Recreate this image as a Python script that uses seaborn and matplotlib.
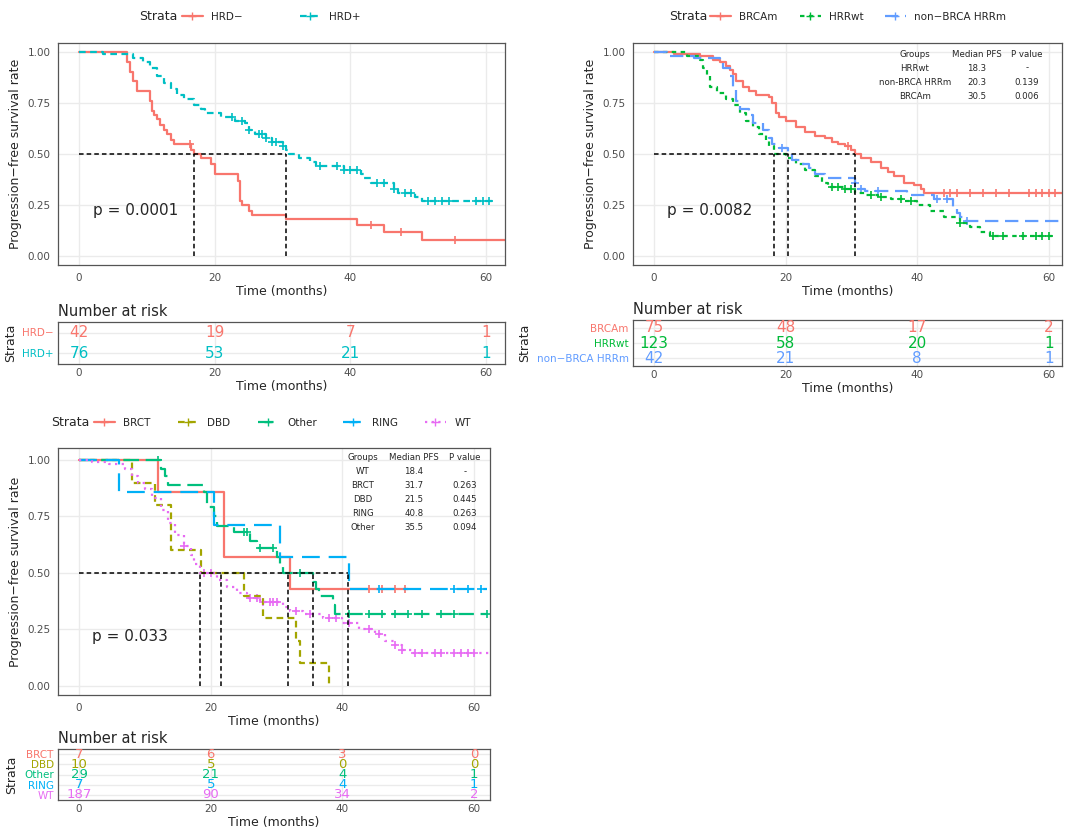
import matplotlib
matplotlib.use("Agg")
import matplotlib.pyplot as plt
import seaborn as sns
from matplotlib.lines import Line2D

# ---------------- data ----------------
risk_times = [0, 20, 40, 60]

# Panel A: HRD
hrdneg_t = [0, 7, 7.5, 8, 8.5, 9, 10.5, 10.8, 11, 11.5, 12, 12.5, 13, 13.5, 14, 16.5, 17, 18, 19.5, 20, 23.5, 23.7, 24, 25, 25.5, 30.5, 41, 45, 50.5, 63]
hrdneg_s = [1.0, 0.95, 0.90, 0.86, 0.81, 0.81, 0.76, 0.71, 0.69, 0.67, 0.64, 0.62, 0.60, 0.57, 0.55, 0.52, 0.50, 0.48, 0.45, 0.40, 0.37, 0.27, 0.25, 0.22, 0.20, 0.18, 0.15, 0.12, 0.08, 0.08]
hrdneg_cens = [16.3, 43, 47.5, 55.5]
hrdpos_t = [0, 3.5, 8, 9.5, 10.5, 11.5, 12.5, 13.5, 14.5, 15.5, 17, 18, 18.5, 21, 23, 24.5, 25, 26, 27.5, 28.5, 30, 30.5, 31, 32.5, 34, 35, 39, 41.5, 42, 43, 46.5, 47, 49.5, 50.5, 61]
hrdpos_s = [1.0, 0.99, 0.97, 0.95, 0.92, 0.88, 0.85, 0.82, 0.79, 0.77, 0.74, 0.72, 0.70, 0.68, 0.66, 0.65, 0.62, 0.60, 0.58, 0.56, 0.54, 0.52, 0.50, 0.48, 0.46, 0.44, 0.42, 0.40, 0.38, 0.36, 0.33, 0.31, 0.29, 0.27, 0.27]
hrdpos_cens = [22.5, 24, 25, 26.5, 27, 27.5, 28.5, 29, 30, 35.5, 38, 39, 40, 41, 44, 45, 46.5, 48, 49, 51.5, 52.5, 53.5, 54.5, 58.5, 59.5, 60.5]
hrd_groups = ["HRD\u2212", "HRD+"]
hrd_risk = [[42, 19, 7, 1], [76, 53, 21, 1]]
hrd_medians = [17.0, 30.5]
hrd_p = "p = 0.0001"

# Panel B: HRR
brcam_t = [0, 3, 7, 9, 10, 11, 11.5, 12, 12.5, 13.5, 14.5, 15.5, 17.5, 18, 18.5, 19, 20, 21.5, 23, 24.5, 26, 27, 28, 29, 30, 30.5, 31.5, 33, 34.5, 35.5, 36.5, 38, 39.5, 40.5, 41, 62]
brcam_s = [1.0, 0.99, 0.98, 0.96, 0.95, 0.93, 0.91, 0.89, 0.86, 0.83, 0.81, 0.79, 0.78, 0.75, 0.70, 0.68, 0.66, 0.63, 0.61, 0.59, 0.58, 0.56, 0.55, 0.54, 0.52, 0.50, 0.48, 0.46, 0.43, 0.41, 0.39, 0.36, 0.35, 0.33, 0.31, 0.31]
brcam_cens = [29.5, 44, 45, 46, 48, 50, 52, 54, 57, 58, 59, 60, 61]
hrrwt_t = [0, 5, 7, 7.5, 8, 8.5, 9.5, 11, 12, 13, 14, 15, 16, 17, 17.5, 18.3, 20, 21.5, 23, 24.5, 25.5, 26.5, 29, 30.5, 32, 34, 36, 38, 40, 42, 44, 46.5, 48, 49.5, 51, 61]
hrrwt_s = [1.0, 0.98, 0.96, 0.92, 0.88, 0.83, 0.80, 0.77, 0.74, 0.70, 0.66, 0.63, 0.60, 0.57, 0.54, 0.50, 0.48, 0.45, 0.42, 0.39, 0.36, 0.34, 0.33, 0.31, 0.30, 0.29, 0.28, 0.27, 0.25, 0.22, 0.19, 0.16, 0.14, 0.12, 0.10, 0.10]
hrrwt_cens = [27, 28, 29, 30, 33, 34.5, 37.5, 39, 46.5, 51.5, 53, 56, 58, 59, 60]
nonbrca_t = [0, 2, 6, 10, 10.5, 11.5, 12, 12.5, 13, 14.5, 15, 16.5, 17.5, 18, 19, 20.3, 21, 22.5, 23.5, 24.5, 26, 30.5, 31, 32, 38.5, 42.5, 45.5, 46, 46.5, 47, 63]
nonbrca_s = [1.0, 0.98, 0.97, 0.95, 0.92, 0.88, 0.83, 0.76, 0.72, 0.69, 0.65, 0.62, 0.58, 0.55, 0.53, 0.50, 0.47, 0.45, 0.43, 0.40, 0.38, 0.36, 0.33, 0.32, 0.30, 0.28, 0.24, 0.21, 0.19, 0.17, 0.17]
nonbrca_cens = [19.5, 30.5, 31.5, 34, 43, 44.5, 47.5]
hrr_groups = ["BRCAm", "HRRwt", "non\u2212BRCA HRRm"]
hrr_risk = [[75, 48, 17, 2], [123, 58, 20, 1], [42, 21, 8, 1]]
hrr_medians = [30.5, 18.3, 20.3]
hrr_p = "p = 0.0082"
hrr_table = [["Groups", "Median PFS", "P value"], ["HRRwt", "18.3", "-"],
             ["non-BRCA HRRm", "20.3", "0.139"], ["BRCAm", "30.5", "0.006"]]

# Panel C: domains
brct_t = [0, 12, 22, 32, 50]
brct_s = [1.0, 0.857, 0.571, 0.428, 0.428]
brct_cens = [44, 46, 48, 49.5]
dbd_t = [0, 8, 11.5, 14, 18.5, 25, 28, 33, 33.5, 38]
dbd_s = [1.0, 0.9, 0.8, 0.6, 0.5, 0.4, 0.3, 0.2, 0.1, 0.0]
dbd_cens = []
other_t = [0, 12.5, 13, 13.5, 19, 19.5, 20.5, 21, 23.5, 26, 27, 30, 30.5, 31, 35.5, 36, 36.5, 38.5, 38.8, 62]
other_s = [1.0, 0.96, 0.93, 0.89, 0.86, 0.79, 0.75, 0.71, 0.68, 0.64, 0.61, 0.57, 0.54, 0.50, 0.46, 0.43, 0.40, 0.36, 0.32, 0.32]
other_cens = [12, 25, 25.5, 27.5, 29.5, 33.5, 41, 44, 46, 48, 50, 52, 55, 57, 62]
ring_t = [0, 6, 20.5, 30.5, 41, 62]
ring_s = [1.0, 0.857, 0.714, 0.571, 0.428, 0.428]
ring_cens = [45.5, 57, 59, 61]
wt_t = [0, 2, 4.5, 7, 8, 9, 10, 11, 12.5, 13.5, 14.5, 16, 17, 17.5, 18.4, 21, 22.5, 24, 25.5, 27.5, 31, 32, 34, 37, 40, 42.5, 45, 46.5, 48, 49, 50.5, 62.5]
wt_s = [1.0, 0.99, 0.98, 0.96, 0.93, 0.90, 0.87, 0.83, 0.78, 0.72, 0.67, 0.62, 0.58, 0.54, 0.50, 0.47, 0.44, 0.41, 0.39, 0.37, 0.35, 0.33, 0.32, 0.30, 0.28, 0.25, 0.23, 0.20, 0.18, 0.16, 0.145, 0.145]
wt_cens = [16, 19, 20, 26, 27, 28, 29, 29.5, 30, 33, 35, 38, 39, 41, 44, 45.5, 48, 49, 51, 52, 54, 55, 57, 58, 59, 60]
dom_groups = ["BRCT", "DBD", "Other", "RING", "WT"]
dom_risk = [[7, 6, 3, 0], [10, 5, 0, 0], [29, 21, 4, 1], [7, 5, 4, 1], [187, 90, 34, 2]]
dom_medians = [31.7, 21.5, 35.5, 40.8, 18.4]
dom_p = "p = 0.033"
dom_table = [["Groups", "Median PFS", "P value"], ["WT", "18.4", "-"], ["BRCT", "31.7", "0.263"],
             ["DBD", "21.5", "0.445"], ["RING", "40.8", "0.263"], ["Other", "35.5", "0.094"]]

# ---------------- drawing ----------------
sns.set_theme(style="whitegrid", rc={"grid.color": "#ebebeb", "axes.edgecolor": "#555555",
                                     "axes.linewidth": 0.9, "font.family": "DejaVu Sans"})
W, H = 1080, 836
fig = plt.figure(figsize=(10.8, 8.36), dpi=100)


def px_axes(x0, y0, x1, y1):
    return fig.add_axes([x0 / W, 1 - y1 / H, (x1 - x0) / W, (y1 - y0) / H])


def km_panel(ax, curves, colors, styles, medians, ptext, xlim, ylim,
             table=None, cols=None, row0=0.95, dy=0.063):
    for (t, s, c), col, ls in zip(curves, colors, styles):
        sns.lineplot(x=t, y=s, ax=ax, color=col, linestyle=ls, lw=1.6,
                     drawstyle="steps-post", estimator=None, sort=False)
        if c:
            ys = [s[max(i for i, tt in enumerate(t) if tt <= ci)] for ci in c]
            sns.scatterplot(x=c, y=ys, ax=ax, color=col, marker="+", s=40, linewidth=1.2)
    ax.plot([0, max(medians)], [0.5, 0.5], ls=(0, (3, 2)), color="black", lw=1.1)
    for m in medians:
        ax.plot([m, m], [0, 0.5], ls=(0, (3, 2)), color="black", lw=1.1)
    ax.set_xlim(*xlim)
    ax.set_ylim(*ylim)
    ax.set_xticks([0, 20, 40, 60])
    ax.set_yticks([0, 0.25, 0.5, 0.75, 1.0])
    ax.set_yticklabels(["0.00", "0.25", "0.50", "0.75", "1.00"])
    ax.tick_params(labelsize=7.5, colors="#4d4d4d", length=2)
    ax.set_xlabel("Time (months)", fontsize=9, labelpad=2)
    ax.set_ylabel("Progression\u2212free survival rate", fontsize=9)
    ax.text(2, 0.2, ptext, fontsize=11)
    if table:
        for r, row in enumerate(table):
            for k, cell in enumerate(row):
                ax.text(cols[k], row0 - r * dy, cell, transform=ax.transAxes,
                        ha="center", va="center", fontsize=6.2)


def risk_panel(ax, groups, risk, colors, xlim, xlabel):
    n = len(groups)
    for i, (g, vals, col) in enumerate(zip(groups, risk, colors)):
        for t, v in zip(risk_times, vals):
            ax.text(t, n - 1 - i, str(v), color=col, ha="center", va="center",
                    fontsize=11 if n < 5 else 9.5)
    ax.set_xlim(*xlim)
    ax.set_ylim(-0.5, n - 0.5)
    ax.set_yticks(range(n))
    ax.set_yticklabels(groups[::-1], fontsize=7.5 if n < 5 else 7)
    for lab, col in zip(ax.get_yticklabels(), colors[::-1]):
        lab.set_color(col)
    ax.set_xticks(risk_times)
    ax.tick_params(labelsize=7.5, length=2, pad=1)
    ax.tick_params(axis="x", colors="#4d4d4d")
    ax.set_ylabel("Strata", fontsize=9)
    ax.set_xlabel(xlabel, fontsize=9, labelpad=1)
    ax.set_title("Number at risk", loc="left", fontsize=10.5, pad=4)


def legend_row(groups, colors, styles, y, xs):
    fig.text(xs[0] / W, 1 - y / H, "Strata", fontsize=9, va="center", ha="right")
    handles = [Line2D([], [], color=c, ls=s, marker="+", lw=1.6) for c, s in zip(colors, styles)]
    for h, g, x in zip(handles, groups, xs[1:]):
        fig.legend([h], [g], loc="center left", bbox_to_anchor=(x / W, 1 - y / H),
                   frameon=False, fontsize=7.5, handlelength=2, borderaxespad=0, borderpad=0)


# Panel A
colA = ["#F8766D", "#00BFC4"]
styA = ["-", (0, (3, 2))]
axA = px_axes(58, 43, 505, 265)
km_panel(axA, [(hrdneg_t, hrdneg_s, hrdneg_cens), (hrdpos_t, hrdpos_s, hrdpos_cens)],
         colA, styA, hrd_medians, hrd_p, (-3.1, 62.8), (-0.044, 1.044))
rA = px_axes(58, 322, 505, 364)
risk_panel(rA, hrd_groups, hrd_risk, colA, (-3.1, 62.8), "Time (months)")
legend_row(hrd_groups, colA, styA, 17, [178, 182, 300])

# Panel B
colB = ["#F8766D", "#00BA38", "#619CFF"]
styB = ["-", (0, (2, 2)), (0, (6, 3))]
axB = px_axes(633, 43, 1062, 265)
km_panel(axB, [(brcam_t, brcam_s, brcam_cens), (hrrwt_t, hrrwt_s, hrrwt_cens), (nonbrca_t, nonbrca_s, nonbrca_cens)],
         colB, styB, hrr_medians, hrr_p, (-3.2, 62.0), (-0.044, 1.044),
         hrr_table, [0.657, 0.802, 0.918], 0.95, 0.063)
rB = px_axes(633, 320, 1062, 366)
risk_panel(rB, hrr_groups, hrr_risk, colB, (-3.2, 62.0), "Time (months)")
legend_row(hrr_groups, colB, styB, 17, [707, 710, 800, 885])

# Panel C
colC = ["#F8766D", "#A3A500", "#00BF7D", "#00B0F6", "#E76BF3"]
styC = ["-", (0, (3, 2)), (0, (7, 3)), (0, (8, 4)), (0, (1, 2))]
axC = px_axes(58, 448, 490, 695)
km_panel(axC, [(brct_t, brct_s, brct_cens), (dbd_t, dbd_s, dbd_cens), (other_t, other_s, other_cens),
               (ring_t, ring_s, ring_cens), (wt_t, wt_s, wt_cens)],
         colC, styC, dom_medians, dom_p, (-3.2, 62.4), (-0.04, 1.053),
         dom_table, [0.706, 0.824, 0.942], 0.963, 0.057)
rC = px_axes(58, 749, 490, 800)
risk_panel(rC, dom_groups, dom_risk, colC, (-3.2, 62.4), "Time (months)")
legend_row(dom_groups, colC, styC, 423, [90, 94, 178, 258, 343, 425])

fig.savefig("out.png", dpi=100, facecolor="white")
